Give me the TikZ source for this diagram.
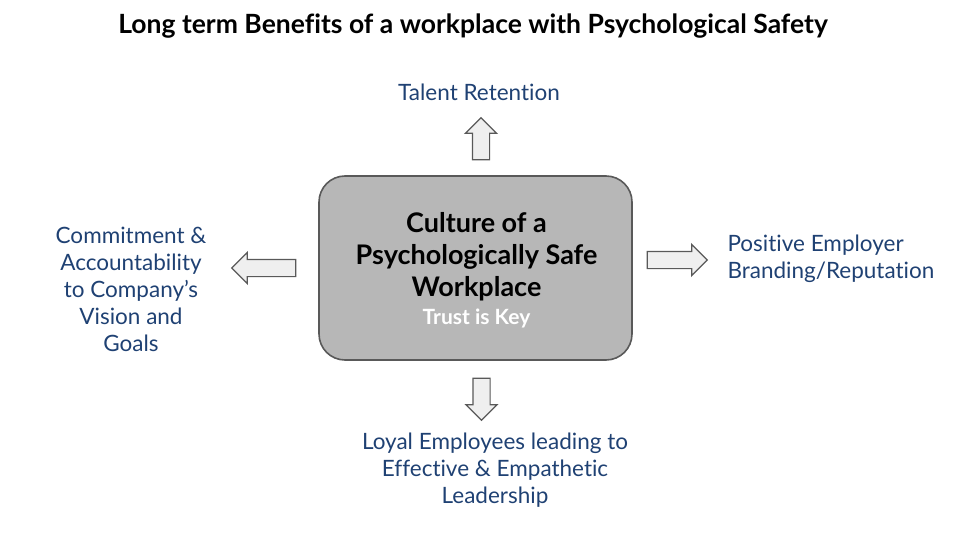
\documentclass[tikz,border=0pt]{standalone}
\usepackage{fontspec}
\setmainfont[Ligatures=NoCommon]{Lato}
\usetikzlibrary{shapes.arrows}
\definecolor{txtblue}{HTML}{1F4173}
\definecolor{boxgray}{HTML}{B7B7B7}
\definecolor{edgegray}{HTML}{595959}
\definecolor{arrowfill}{HTML}{EFEFEF}
\tikzset{
  blockarrow/.style={single arrow, draw=edgegray, fill=arrowfill, line width=1.2pt,
    inner sep=0pt, minimum width=30pt, single arrow head extend=7pt, text width=0pt,
    text height=16pt, anchor=center},
  benefit/.style={text=txtblue, font=\fontsize{22.5}{27}\selectfont, align=center}
}
\begin{document}
\begin{tikzpicture}[x=1pt,y=-1pt]
\useasboundingbox (0,0) rectangle (960,540);
\node[font=\bfseries\fontsize{26.5}{30}\selectfont] (title) at (473,26) {Long term Benefits of a workplace with Psychological Safety};
\node[draw=edgegray, fill=boxgray, line width=1.6pt, rounded corners=26pt,
  minimum width=313pt, minimum height=184pt] (core) at (475.5,268) {};
\node[font=\bfseries\fontsize{27}{32}\selectfont, align=center] (ct) at (476.5,257) {Culture of a\\Psychologically Safe\\Workplace};
\node[font=\bfseries\fontsize{21}{24}\selectfont, text=white] (tk) at (476.5,318) {Trust is Key};
\node[blockarrow, rotate=90, minimum height=42pt] (up) at (481,143) {};
\node[blockarrow, rotate=-90, minimum height=42pt] (down) at (481.5,395) {};
\node[blockarrow, rotate=0, minimum height=60pt] (right) at (673,260) {};
\node[blockarrow, rotate=180, minimum height=64pt] (left) at (268,268) {};
\node[benefit] (t1) at (479,92) {Talent Retention};
\node[benefit, align=left, anchor=west] (t2) at (724,259) {Positive Employer\\Branding/Reputation};
\node[benefit] (t3) at (131,289) {Commitment \&\\Accountability\\to Company's\\Vision and\\Goals};
\node[benefit] (t4) at (495,470) {Loyal Employees leading to\\Effective \& Empathetic\\Leadership};
\end{tikzpicture}
\end{document}
